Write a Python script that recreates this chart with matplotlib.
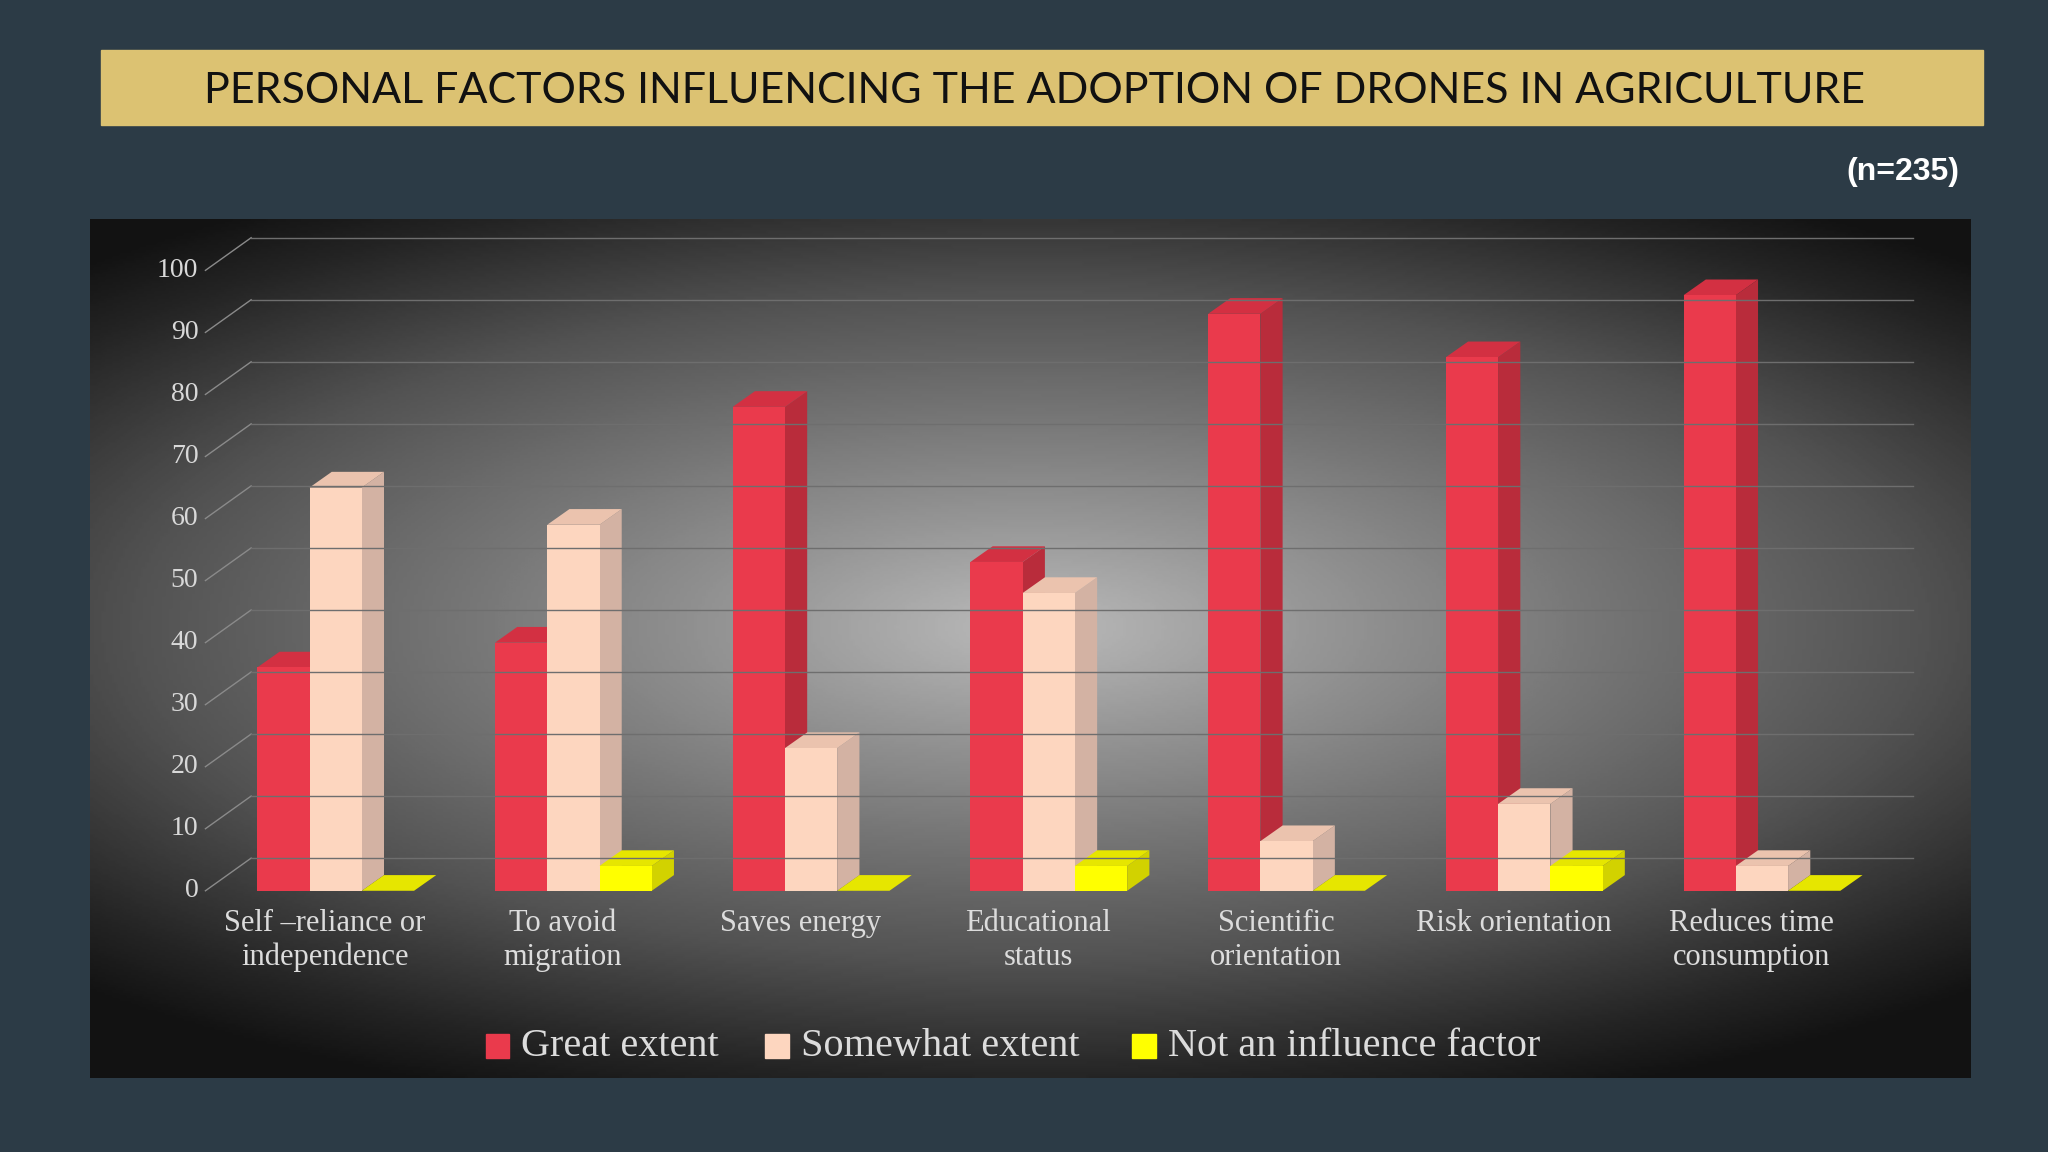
import numpy as np
import matplotlib.pyplot as plt
from matplotlib.patches import Polygon, Rectangle

categories = ["Self \u2013reliance or\nindependence", "To avoid\nmigration", "Saves energy",
              "Educational\nstatus", "Scientific\norientation", "Risk orientation",
              "Reduces time\nconsumption"]
great = [36, 40, 78, 53, 93, 86, 96]
somewhat = [65, 59, 23, 48, 8, 14, 4]
not_factor = [0, 4, 0, 4, 0, 4, 0]
series = ["Great extent", "Somewhat extent", "Not an influence factor"]
yticks = list(range(0, 101, 10))

W, H = 1568, 882  # reference layout units
front = ["#ea3a4c", "#fdd6bf", "#ffff00"]
side = ["#b92c3b", "#d3b2a3", "#d2d200"]
top = ["#d33042", "#ebc3ae", "#e6e600"]

fig = plt.figure(figsize=(20.48, 11.52), dpi=100)
fig.patch.set_facecolor("#2c3b46")

# title band
fig.patches.append(Rectangle((77 / W, 1 - 96 / H), (1518 - 77) / W, 58 / H,
                             transform=fig.transFigure, color="#dcc272"))
fig.text(792 / W, 1 - 70 / H, "PERSONAL FACTORS INFLUENCING THE ADOPTION OF DRONES IN AGRICULTURE",
         ha="center", va="center", fontsize=31, family="Lato", color="#111111")
fig.text(1500 / W, 1 - 132 / H, "(n=235)", ha="right", va="center", fontsize=23,
         family="Liberation Sans", weight="bold", color="white")

# dark panel with radial gradient
pan = fig.add_axes([69 / W, 1 - 825 / H, (1509 - 69) / W, (825 - 168) / H])
yy, xx = np.mgrid[-1:1:300j, -1:1:500j]
r = np.sqrt((xx * 0.9) ** 2 + ((yy + 0.05) * 1.1) ** 2)
pan.imshow(np.clip(r, 0, 1.3), cmap="Greys", vmin=-0.9, vmax=1.45, aspect="auto",
           extent=[0, 1, 0, 1])
pan.axis("off")

# plot axes: value 0 at y=682, 105.26 at y=182; category centers 257 + 182*i
x0px, x1px = 150, 1465
ax = fig.add_axes([x0px / W, 1 - 682 / H, (x1px - x0px) / W, 500 / H])
ax.set_xlim((x0px - 257) / 182, (x1px - 257) / 182)
ax.set_ylim(0, 500 / 4.75)
ax.axis("off")
ax.patch.set_alpha(0)

wdx, wdy = 35 / 182, 25 / 4.75   # back wall offset
bdx, bdy = 17 / 182, 12 / 4.75   # bar depth
xl, xr = ax.get_xlim()
for v in yticks:
    ax.plot([xl + 0.04, xl + 0.04 + wdx], [v, v + wdy], color="#8a8a8a", lw=1, clip_on=False)
    ax.plot([xl + 0.04 + wdx, xr], [v + wdy, v + wdy], color="#6e6e6e", lw=1, clip_on=False)
    ax.text(xl + 0.01, v, str(v), ha="right", va="center", fontsize=20, family="Liberation Serif",
            color="#d8d8d8")

bw = 40 / 182
for i in range(len(categories)):
    for k, vals in enumerate([great, somewhat, not_factor]):
        v = vals[i]
        x = i - 1.5 * bw + k * bw
        ax.add_patch(Polygon([(x + bw, 0), (x + bw + bdx, bdy), (x + bw + bdx, v + bdy), (x + bw, v)],
                             closed=True, color=side[k], clip_on=False, lw=0))
        ax.add_patch(Polygon([(x, v), (x + bdx, v + bdy), (x + bw + bdx, v + bdy), (x + bw, v)],
                             closed=True, color=top[k], clip_on=False, lw=0))
        if v > 0:
            ax.add_patch(Rectangle((x, 0), bw, v, color=front[k], clip_on=False, lw=0))
    ax.text(i - 0.045, -3.0, categories[i], ha="center", va="top", fontsize=22,
            family="Liberation Serif", color="#dcdcdc", linespacing=1.2)

# legend
lx = [372, 586, 867]
for k, name in enumerate(series):
    fig.patches.append(Rectangle((lx[k] / W, 1 - 810 / H), 18 / W, 18 / H,
                                 transform=fig.transFigure, color=front[k]))
    fig.text((lx[k] + 27) / W, 1 - 801 / H, name, ha="left", va="center", fontsize=29,
             family="Liberation Serif", color="#dcdcdc")

fig.savefig("out.png", dpi=100, facecolor=fig.get_facecolor())
